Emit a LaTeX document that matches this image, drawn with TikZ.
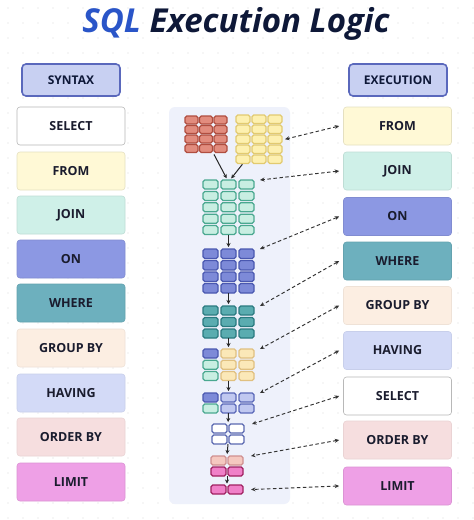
\documentclass[tikz,border=0pt]{standalone}
\usepackage{fontspec}
\setmainfont{Open Sans}
\usetikzlibrary{arrows.meta}
\definecolor{titleblue}{HTML}{2A55C8}
\definecolor{titlenavy}{HTML}{0E1838}
\definecolor{txt}{HTML}{1A1C2E}
\definecolor{hdrfill}{HTML}{C8D0F2}
\definecolor{hdrdraw}{HTML}{5A68BC}
\definecolor{panel}{HTML}{EEF1FB}
\definecolor{cYellow}{HTML}{FFF9D6}
\definecolor{cMint}{HTML}{CFF0E8}
\definecolor{cOn}{HTML}{8C98E3}
\definecolor{cWhere}{HTML}{6DB0BE}
\definecolor{cGroup}{HTML}{FCEEE2}
\definecolor{cHaving}{HTML}{D3DAF7}
\definecolor{cOrder}{HTML}{F6DEDF}
\definecolor{cLimit}{HTML}{EEA0E6}
\newcommand{\tgrid}[9]{%
  \foreach \cc in {1,...,#3}{\foreach \rr in {1,...,#4}{
    \draw[cell,#9] ({#1+(\cc-1)*#7},{#2+(\rr-1)*#8}) rectangle ++(#5,#6);}}}
\tikzset{
  cell/.style={rounded corners=1.8pt,line width=1.25pt},
  cRed/.style={fill={rgb,255:red,226;green,140;blue,126},draw={rgb,255:red,176;green,78;blue,64}},
  cYel/.style={fill={rgb,255:red,253;green,240;blue,176},draw={rgb,255:red,226;green,202;blue,112}},
  cYel2/.style={fill={rgb,255:red,251;green,232;blue,184},draw={rgb,255:red,224;green,192;blue,128}},
  cMnt/.style={fill={rgb,255:red,200;green,238;blue,226},draw={rgb,255:red,74;green,168;blue,144}},
  cBlu/.style={fill={rgb,255:red,125;green,138;blue,216},draw={rgb,255:red,74;green,88;blue,176}},
  cTeal/.style={fill={rgb,255:red,90;green,172;blue,176},draw={rgb,255:red,42;green,122;blue,128}},
  cLblu/.style={fill={rgb,255:red,192;green,200;blue,240},draw={rgb,255:red,90;green,104;blue,184}},
  cWht/.style={fill=white,draw={rgb,255:red,90;green,104;blue,176}},
  cPnk1/.style={fill={rgb,255:red,245;green,200;blue,192},draw={rgb,255:red,208;green,144;blue,144}},
  cPnk2/.style={fill={rgb,255:red,240;green,128;blue,200},draw={rgb,255:red,160;green,32;blue,96}},
  tbl/.style={inner sep=0pt,outer sep=0pt,draw=none},
  kbox/.style={rounded corners=3pt,minimum width=108pt,minimum height=38pt,inner sep=0pt,
    font=\fontsize{12.5}{14}\selectfont\bfseries,text=txt,line width=0.6pt},
  hdr/.style={rounded corners=4pt,minimum width=98pt,minimum height=32pt,fill=hdrfill,draw=hdrdraw,
    line width=1.6pt,font=\fontsize{12}{14}\selectfont\bfseries,text=titlenavy},
  flow/.style={-{Stealth[length=4pt,width=4pt]},line width=1pt,draw=black!85},
  link/.style={{Stealth[length=4.5pt,width=4pt]}-{Stealth[length=4.5pt,width=4pt]},line width=0.95pt,
    draw=black!80,dash pattern=on 3.5pt off 2.5pt},
}
\begin{document}
\begin{tikzpicture}[x=1pt,y=-1pt]
\fill[white] (0,0) rectangle (474,520);
\useasboundingbox (0,0) rectangle (474,520);
% dot grid
\foreach \i in {0,...,31}{\foreach \j in {0,...,34}{
  \fill[black!14] ({8+\i*15},{8+\j*15}) circle (0.6);}}
% title
\node (title) at (236,24) {\fontsize{33}{36}\selectfont\bfseries\itshape\textcolor{titleblue}{SQL} \textcolor{titlenavy}{Execution Logic}};
% headers
\node[hdr] (syn) at (71,80) {SYNTAX};
\node[hdr] (exe) at (398,80) {EXECUTION};
% left column
\node[kbox,fill=white,draw=black!28] (lselect) at (71,126) {SELECT};
\node[kbox,fill=cYellow,draw=cYellow!90!black] (lfrom) at (71,171) {FROM};
\node[kbox,fill=cMint,draw=cMint!92!black] (ljoin) at (71,215) {JOIN};
\node[kbox,fill=cOn,draw=cOn!92!black] (lon) at (71,259) {ON};
\node[kbox,fill=cWhere,draw=cWhere!92!black] (lwhere) at (71,303) {WHERE};
\node[kbox,fill=cGroup,draw=cGroup!95!black] (lgroup) at (71,348) {GROUP BY};
\node[kbox,fill=cHaving,draw=cHaving!95!black] (lhaving) at (71,393) {HAVING};
\node[kbox,fill=cOrder,draw=cOrder!95!black] (lorder) at (71,437) {ORDER BY};
\node[kbox,fill=cLimit,draw=cLimit!92!black] (llimit) at (71,482) {LIMIT};
% right column
\node[kbox,fill=cYellow,draw=cYellow!90!black] (rfrom) at (397.5,126) {FROM};
\node[kbox,fill=cMint,draw=cMint!92!black] (rjoin) at (397.5,171) {JOIN};
\node[kbox,fill=cOn,draw=cOn!92!black] (ron) at (397.5,216.5) {ON};
\node[kbox,fill=cWhere,draw=cWhere!92!black] (rwhere) at (397.5,261) {WHERE};
\node[kbox,fill=cGroup,draw=cGroup!95!black] (rgroup) at (397.5,305.5) {GROUP BY};
\node[kbox,fill=cHaving,draw=cHaving!95!black] (rhaving) at (397.5,350.5) {HAVING};
\node[kbox,fill=white,draw=black!28] (rselect) at (397.5,396) {SELECT};
\node[kbox,fill=cOrder,draw=cOrder!95!black] (rorder) at (397.5,440) {ORDER BY};
\node[kbox,fill=cLimit,draw=cLimit!92!black] (rlimit) at (397.5,486) {LIMIT};
% central panel
\fill[panel,rounded corners=6pt] (169,107) rectangle (290,504);
% table bounding nodes
\node[tbl,minimum width=43pt,minimum height=37.5pt] (t1) at (206.5,134.75) {};
\node[tbl,minimum width=46pt,minimum height=48.5pt] (t2) at (259,139.25) {};
\node[tbl,minimum width=51pt,minimum height=54.6pt] (t3) at (228.5,207.3) {};
\node[tbl,minimum width=51pt,minimum height=44pt] (t4) at (228.5,271) {};
\node[tbl,minimum width=51pt,minimum height=32pt] (t5) at (228.5,322) {};
\node[tbl,minimum width=51pt,minimum height=31.6pt] (t6) at (228.5,364.8) {};
\node[tbl,minimum width=51pt,minimum height=20pt] (t7) at (228.5,403) {};
\node[tbl,minimum width=32pt,minimum height=20pt] (t8) at (228,434) {};
\node[tbl,minimum width=32pt,minimum height=20pt] (t9) at (227,466) {};
\node[tbl,minimum width=32pt,minimum height=9pt] (t10) at (227,489.5) {};
% cells
\tgrid{185}{116}{3}{4}{13}{8}{14.5}{9.5}{cRed}
\tgrid{236}{115}{3}{5}{14}{8.5}{16}{10}{cYel}
\tgrid{203}{180}{3}{5}{15}{9}{18}{11.4}{cMnt}
\tgrid{203}{249}{3}{4}{15}{9.5}{18}{11.5}{cBlu}
\tgrid{203}{306}{3}{3}{15}{9}{18}{11.5}{cTeal}
\tgrid{203}{349}{1}{1}{15}{9}{18}{11.3}{cBlu}
\tgrid{203}{360.3}{1}{2}{15}{9}{18}{11.3}{cMnt}
\tgrid{221}{349}{2}{3}{15}{9}{18}{11.3}{cYel2}
\tgrid{203}{393}{1}{1}{15}{9}{18}{11}{cBlu}
\tgrid{203}{404}{1}{1}{15}{9}{18}{11}{cMnt}
\tgrid{221}{393}{2}{2}{15}{9}{18}{11}{cLblu}
\tgrid{212}{424}{2}{2}{15}{9}{17}{11}{cWht}
\tgrid{211}{456}{2}{1}{15}{9}{17}{11}{cPnk1}
\tgrid{211}{467}{2}{1}{15}{9}{17}{11}{cPnk2}
\tgrid{211}{485}{2}{1}{15}{9}{17}{11}{cPnk2}
% flow arrows
\draw[flow,shorten <=1pt,shorten >=2pt] ([xshift=7pt]t1.south) -- ([xshift=-1pt]t3.north);
\draw[flow,shorten <=1pt,shorten >=2pt] ([xshift=-16pt]t2.south) -- ([xshift=1.5pt]t3.north);
\draw[flow,shorten >=2pt] (t3.south) -- (t4.north);
\draw[flow,shorten >=2pt] (t4.south) -- (t5.north);
\draw[flow,shorten >=2pt] (t5.south) -- (t6.north);
\draw[flow,shorten >=2pt] (t6.south) -- (t7.north);
\draw[flow,shorten >=2pt] (t7.south) -- (t8.north);
\draw[flow,shorten >=2pt] (t8.south) -- (t9.north);
\draw[flow,shorten >=1.5pt] (t9.south) -- (t10.north);
% dashed links
\draw[link] ([xshift=-4pt]rfrom.west) -- ([xshift=3pt]t2.east);
\draw[link] ([xshift=-4pt]rjoin.west) -- ([xshift=6pt]t3.north east);
\draw[link] ([xshift=-4pt]ron.west) -- ([xshift=6pt]t4.north east);
\draw[link] ([xshift=-4pt]rwhere.west) -- ([xshift=6pt]t5.north east);
\draw[link] ([xshift=-4pt]rgroup.west) -- ([xshift=6pt]t6.north east);
\draw[link] ([xshift=-4pt]rhaving.west) -- ([xshift=6pt]t7.north east);
\draw[link] ([xshift=-4pt]rselect.west) -- ([xshift=8pt]t8.north east);
\draw[link] ([xshift=-4pt]rorder.west) -- ([xshift=8pt]t9.north east);
\draw[link] ([xshift=-4pt]rlimit.west) -- ([xshift=8pt]t10.east);
\end{tikzpicture}
\end{document}
